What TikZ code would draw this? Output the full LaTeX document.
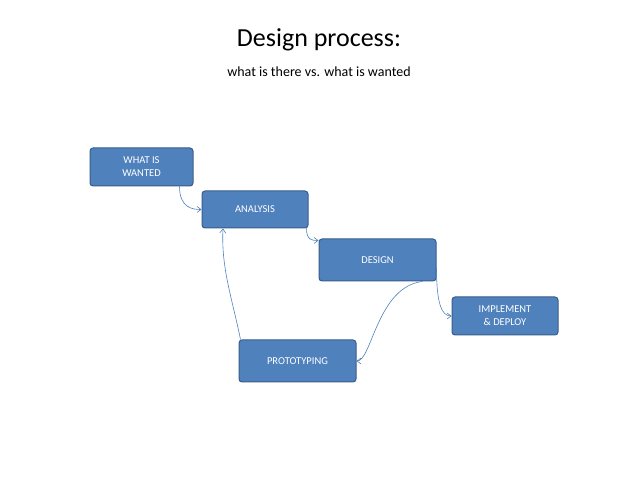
\documentclass[tikz,border=0pt]{standalone}
\usepackage{fontspec}
\setmainfont{Carlito}
\usetikzlibrary{arrows.meta}
\definecolor{boxfill}{HTML}{4F81BD}
\definecolor{boxline}{HTML}{385D8A}
\tikzset{
 box/.style={draw=boxline,line width=1pt,fill=boxfill,rounded corners=3pt,text=white,font=\fontsize{10.5}{13}\selectfont,align=center,inner sep=0pt},
 conn/.style={draw=boxfill,line width=0.6pt,-{Straight Barb[length=4pt,width=6pt]}}
}
\begin{document}
\begin{tikzpicture}[x=1pt,y=-1pt]
\useasboundingbox (0,0) rectangle (638,478);
\node[font=\fontsize{26}{30}\selectfont] (title) at (319,40) {Design process:};
\node[font=\fontsize{14}{17}\selectfont] (sub) at (319,72) {what is there vs. what is wanted};
\node[box,minimum width=103pt,minimum height=38pt] (want) at (141.5,167) {WHAT IS\\WANTED};
\node[box,minimum width=106pt,minimum height=37pt] (ana) at (255,209.5) {ANALYSIS};
\node[box,minimum width=117pt,minimum height=42pt] (des) at (377.5,260) {DESIGN};
\node[box,minimum width=106pt,minimum height=38pt] (imp) at (505,316) {IMPLEMENT\\\& DEPLOY};
\node[box,minimum width=117pt,minimum height=42pt] (pro) at (297.5,361) {PROTOTYPING};
\draw[conn] (want.south) ++(38,0) .. controls +(0,22) and +(-8,0) .. (ana.west);
\draw[conn] (ana.south east) ++(-2,0) .. controls +(0,12) and +(-6,0) .. ([yshift=-2pt]des.south west |- des.north);
\draw[conn] (des.east) ++(0,8) .. controls +(0,35) and +(-10,0) .. (imp.west);
\draw[conn] (des.south) ++(45,0) .. controls +(-45,5) and +(15,0) .. (pro.east);
\draw[conn] (pro.north west) ++(2,0) .. controls +(-8,-40) and +(-2,40) .. ([xshift=-32pt]ana.south);
\end{tikzpicture}
\end{document}
